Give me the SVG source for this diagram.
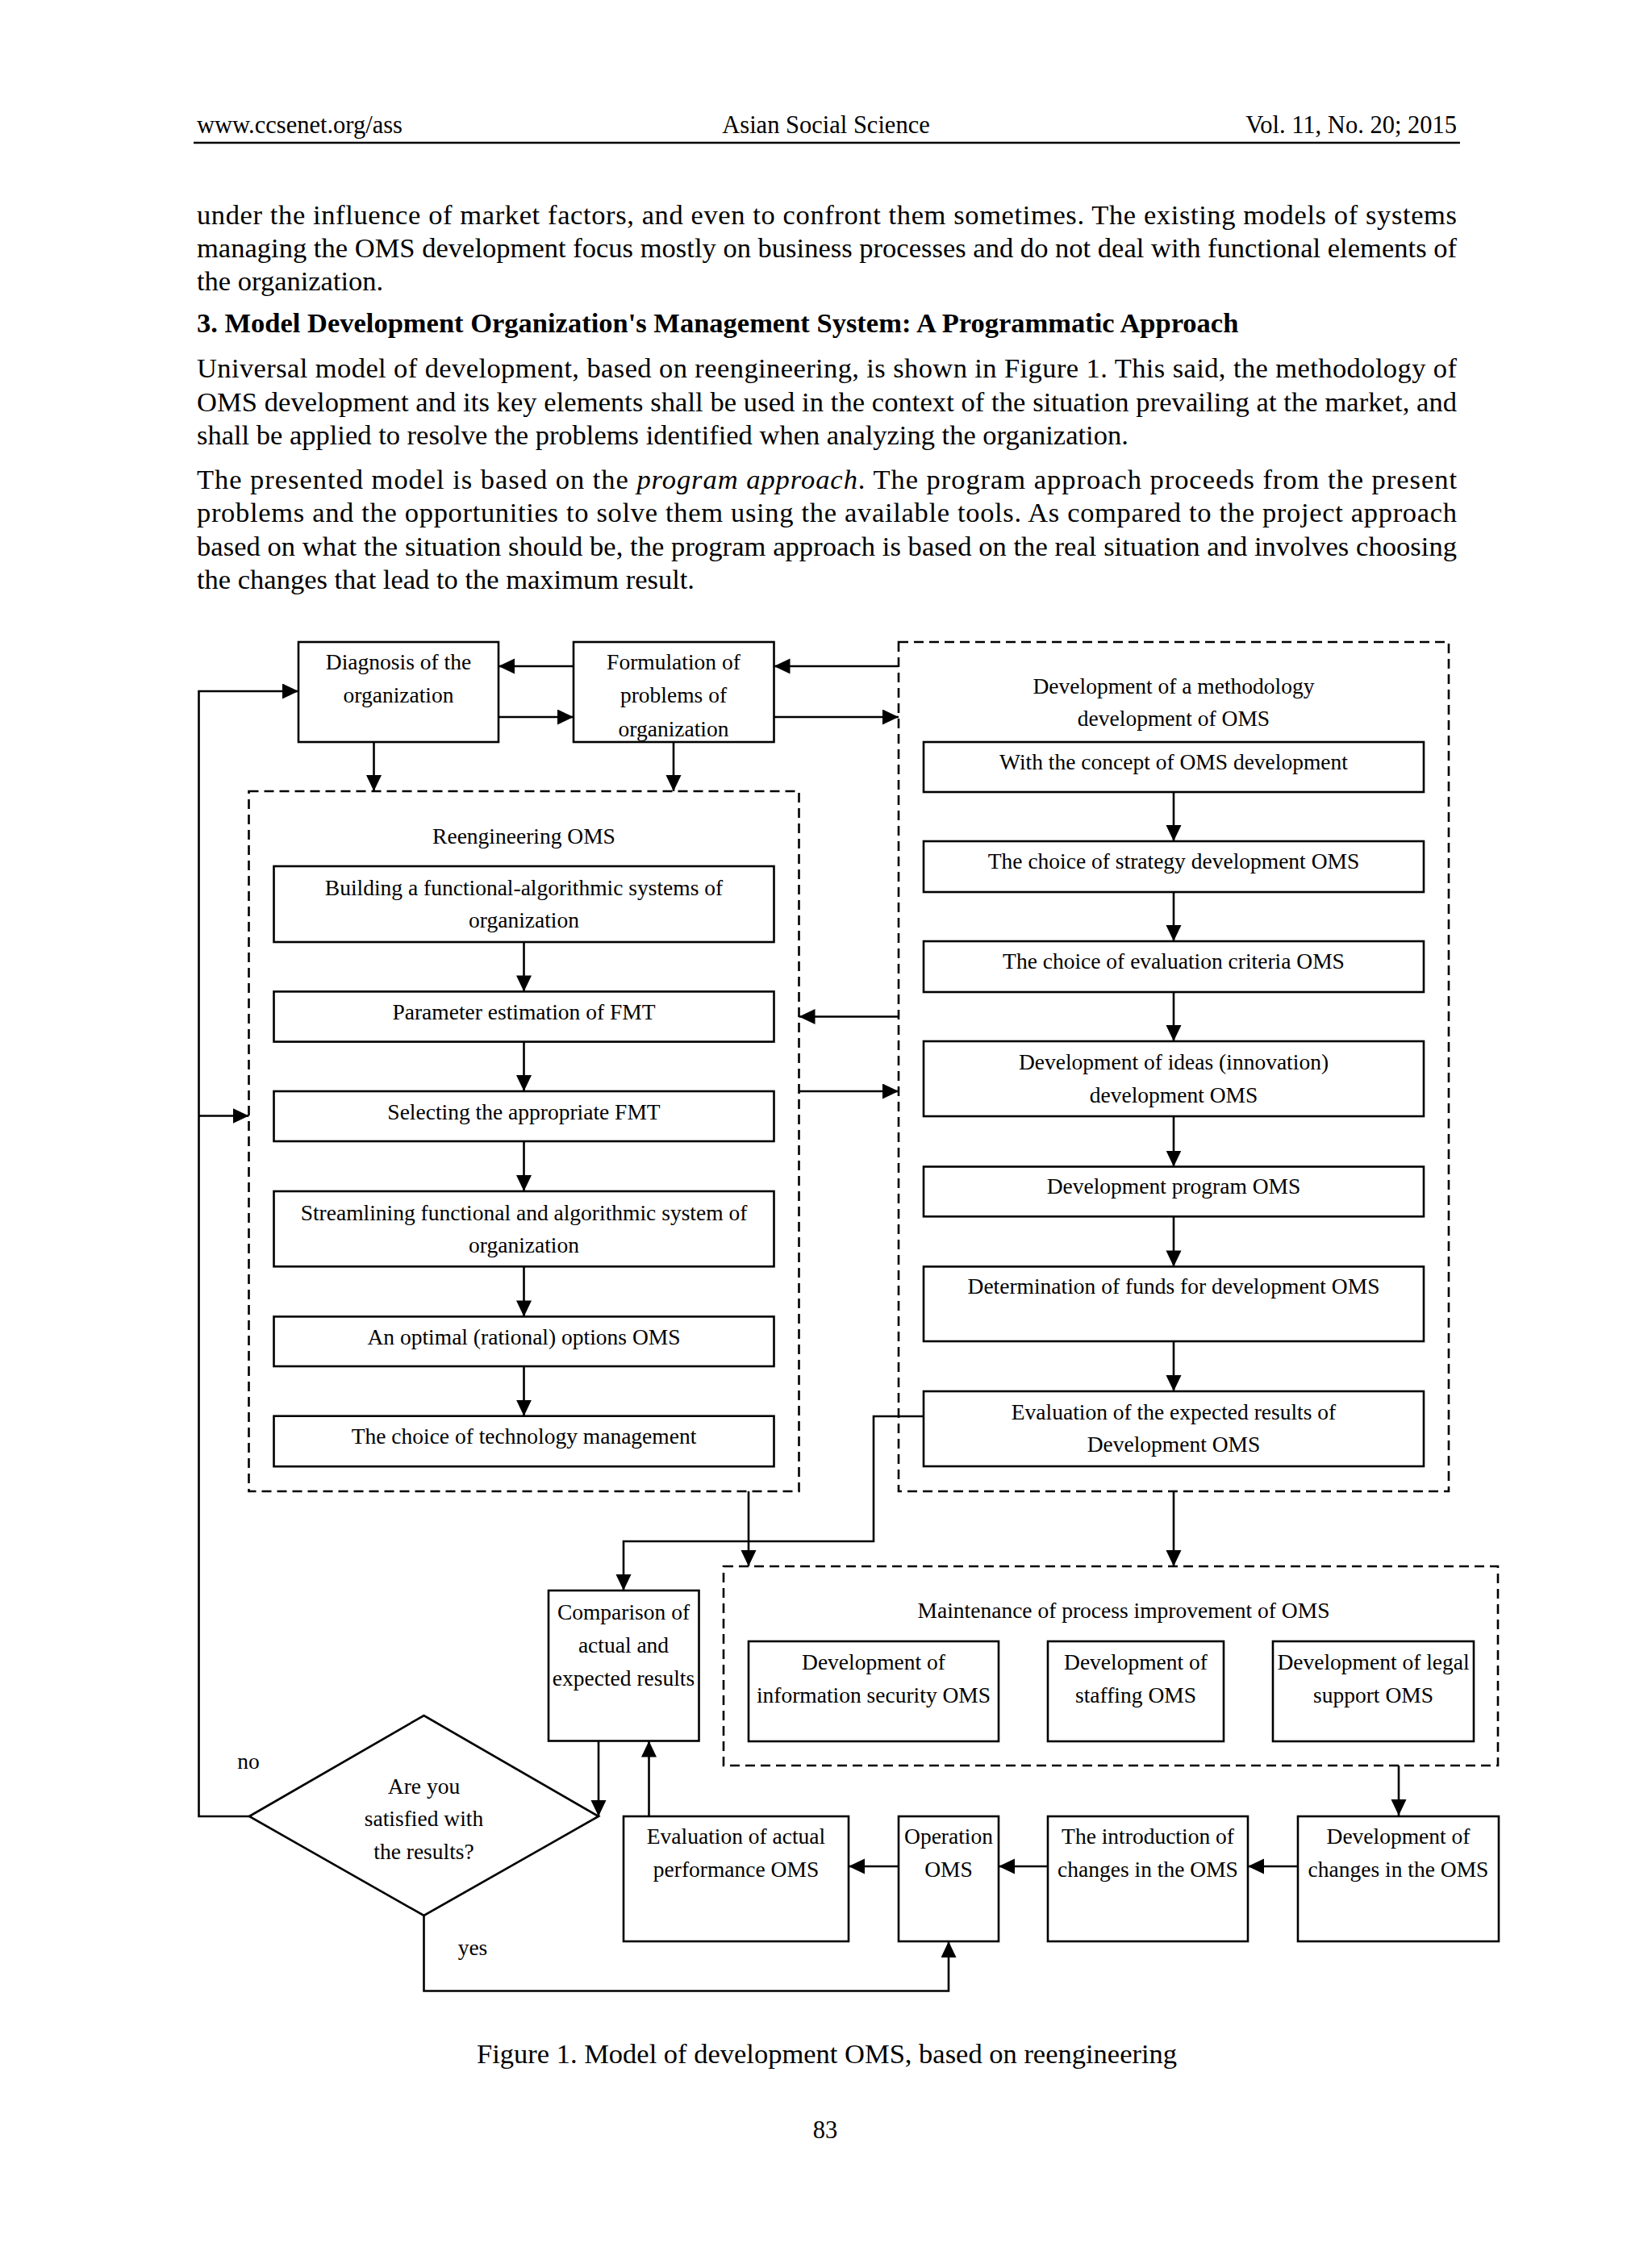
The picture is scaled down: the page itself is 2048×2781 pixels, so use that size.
<svg xmlns="http://www.w3.org/2000/svg" width="2048" height="2781" viewBox="0 0 2048 2781">
<style>
.b{fill:#fff;stroke:#000;stroke-width:2.6}
.d{fill:none;stroke:#000;stroke-width:2.6;stroke-dasharray:12 7}
.c{fill:none;stroke:#000;stroke-width:2.6}
.t{font-family:"Liberation Serif",serif;font-size:27.5px;text-anchor:middle;fill:#000}
.p{font-family:"Liberation Serif",serif;font-size:34.5px;fill:#000}
.h{font-family:"Liberation Serif",serif;font-size:30.5px;fill:#000}
</style>
<defs>
<marker id="ah" markerUnits="userSpaceOnUse" markerWidth="21" markerHeight="20" refX="20" refY="9.5" orient="auto">
<path d="M0,0 L20,9.5 L0,19 z" fill="#000"/>
</marker>
</defs>
<rect width="2048" height="2781" fill="#fff"/>

<!-- page header & body text -->
<g id="page-text">
<text class="h" x="244" y="165">www.ccsenet.org/ass</text>
<text class="h" x="1024" y="165" text-anchor="middle">Asian Social Science</text>
<text class="h" x="1806" y="165" text-anchor="end">Vol. 11, No. 20; 2015</text>
<line x1="240" y1="177" x2="1810" y2="177" stroke="#000" stroke-width="2.5"/>
<text class="p" x="244" y="278" textLength="1562" lengthAdjust="spacing">under the influence of market factors, and even to confront them sometimes. The existing models of systems</text>
<text class="p" x="244" y="319" textLength="1562" lengthAdjust="spacing">managing the OMS development focus mostly on business processes and do not deal with functional elements of</text>
<text class="p" x="244" y="360">the organization.</text>
<text class="p" x="244" y="412" font-weight="bold">3. Model Development Organization's Management System: A Programmatic Approach</text>
<text class="p" x="244" y="468" textLength="1562" lengthAdjust="spacing">Universal model of development, based on reengineering, is shown in Figure 1. This said, the methodology of</text>
<text class="p" x="244" y="510" textLength="1562" lengthAdjust="spacing">OMS development and its key elements shall be used in the context of the situation prevailing at the market, and</text>
<text class="p" x="244" y="551">shall be applied to resolve the problems identified when analyzing the organization.</text>
<text class="p" x="244" y="606" textLength="1562" lengthAdjust="spacing">The presented model is based on the <tspan font-style="italic">program approach</tspan>. The program approach proceeds from the present</text>
<text class="p" x="244" y="647" textLength="1562" lengthAdjust="spacing">problems and the opportunities to solve them using the available tools. As compared to the project approach</text>
<text class="p" x="244" y="689" textLength="1562" lengthAdjust="spacing">based on what the situation should be, the program approach is based on the real situation and involves choosing</text>
<text class="p" x="244" y="730">the changes that lead to the maximum result.</text>
<text class="p" x="1025" y="2558" text-anchor="middle">Figure 1. Model of development OMS, based on reengineering</text>
<text class="h" x="1023" y="2651" text-anchor="middle">83</text>
</g>

<!-- containers -->
<g id="reengineering">
<rect class="d" x="308.5" y="981" width="682" height="868"/>
<text class="t" x="649.5" y="1046">Reengineering OMS</text>
</g>
<g id="methodology">
<rect class="d" x="1114" y="796" width="682" height="1053"/>
<text class="t" x="1455" y="860">Development of a methodology</text>
<text class="t" x="1455" y="900">development of OMS</text>
</g>
<g id="maintenance">
<rect class="d" x="897" y="1942" width="960" height="247"/>
<text class="t" x="1393" y="2006">Maintenance of process improvement of OMS</text>
</g>

<!-- connectors -->
<g id="connectors">
<path class="c" d="M711,826 H618" marker-end="url(#ah)"/>
<path class="c" d="M618,889 H711" marker-end="url(#ah)"/>
<path class="c" d="M1114,826 H959.5" marker-end="url(#ah)"/>
<path class="c" d="M959.5,889 H1114" marker-end="url(#ah)"/>
<path class="c" d="M463.5,920 V981" marker-end="url(#ah)"/>
<path class="c" d="M835,920 V981" marker-end="url(#ah)"/>
<path class="c" d="M649.5,1168 V1229.4" marker-end="url(#ah)"/>
<path class="c" d="M649.5,1291.6 V1353" marker-end="url(#ah)"/>
<path class="c" d="M649.5,1415 V1477" marker-end="url(#ah)"/>
<path class="c" d="M649.5,1570.3 V1632.4" marker-end="url(#ah)"/>
<path class="c" d="M649.5,1694 V1755.7" marker-end="url(#ah)"/>
<path class="c" d="M1455,982 V1043" marker-end="url(#ah)"/>
<path class="c" d="M1455,1106 V1167" marker-end="url(#ah)"/>
<path class="c" d="M1455,1230 V1291" marker-end="url(#ah)"/>
<path class="c" d="M1455,1384 V1446.5" marker-end="url(#ah)"/>
<path class="c" d="M1455,1508.3 V1570.4" marker-end="url(#ah)"/>
<path class="c" d="M1455,1663 V1725" marker-end="url(#ah)"/>
<path class="c" d="M1114,1260.5 H990.5" marker-end="url(#ah)"/>
<path class="c" d="M990.5,1353 H1114" marker-end="url(#ah)"/>
<path class="c" d="M309,2252 H246.5 V857 H370" marker-end="url(#ah)"/>
<path class="c" d="M246.5,1383.5 H308.5" marker-end="url(#ah)"/>
<path class="c" d="M928,1849 V1942" marker-end="url(#ah)"/>
<path class="c" d="M1145,1756 H1083 V1911 H773 V1972" marker-end="url(#ah)"/>
<path class="c" d="M1455,1849 V1942" marker-end="url(#ah)"/>
<path class="c" d="M1734,2189 V2251" marker-end="url(#ah)"/>
<path class="c" d="M1609,2314 H1547" marker-end="url(#ah)"/>
<path class="c" d="M1299,2314 H1238" marker-end="url(#ah)"/>
<path class="c" d="M1114,2314 H1052" marker-end="url(#ah)"/>
<path class="c" d="M804.5,2252 V2158.5" marker-end="url(#ah)"/>
<path class="c" d="M742,2158.5 V2252" marker-end="url(#ah)"/>
<path class="c" d="M525.5,2375 V2468.5 H1176 V2407" marker-end="url(#ah)"/>
<text class="t" x="308" y="2193">no</text>
<text class="t" x="586" y="2424">yes</text>
</g>

<!-- nodes -->
<g id="diagnosis"><rect class="b" x="370" y="796" width="248" height="124"/>
<text class="t" x="494" y="830">Diagnosis of the</text><text class="t" x="494" y="871">organization</text></g>
<g id="formulation"><rect class="b" x="711" y="796" width="248.5" height="124"/>
<text class="t" x="835" y="830">Formulation of</text><text class="t" x="835" y="871">problems of</text><text class="t" x="835" y="913">organization</text></g>

<g id="building"><rect class="b" x="339.5" y="1074" width="620" height="94"/>
<text class="t" x="649.5" y="1110">Building a functional-algorithmic systems of</text><text class="t" x="649.5" y="1150">organization</text></g>
<g id="parameter"><rect class="b" x="339.5" y="1229.4" width="620" height="62.2"/>
<text class="t" x="649.5" y="1264">Parameter estimation of FMT</text></g>
<g id="selecting"><rect class="b" x="339.5" y="1353" width="620" height="62"/>
<text class="t" x="649.5" y="1387.5">Selecting the appropriate FMT</text></g>
<g id="streamlining"><rect class="b" x="339.5" y="1477" width="620" height="93.3"/>
<text class="t" x="649.5" y="1512.5">Streamlining functional and algorithmic system of</text><text class="t" x="649.5" y="1553">organization</text></g>
<g id="optimal"><rect class="b" x="339.5" y="1632.4" width="620" height="61.6"/>
<text class="t" x="649.5" y="1667">An optimal (rational) options OMS</text></g>
<g id="technology"><rect class="b" x="339.5" y="1755.7" width="620" height="62.5"/>
<text class="t" x="649.5" y="1790">The choice of technology management</text></g>

<g id="concept"><rect class="b" x="1145" y="920" width="620" height="62"/>
<text class="t" x="1455" y="954">With the concept of OMS development</text></g>
<g id="strategy"><rect class="b" x="1145" y="1043" width="620" height="63"/>
<text class="t" x="1455" y="1077">The choice of strategy development OMS</text></g>
<g id="criteria"><rect class="b" x="1145" y="1167" width="620" height="63"/>
<text class="t" x="1455" y="1201">The choice of evaluation criteria OMS</text></g>
<g id="ideas"><rect class="b" x="1145" y="1291" width="620" height="93"/>
<text class="t" x="1455" y="1326">Development of ideas (innovation)</text><text class="t" x="1455" y="1367">development OMS</text></g>
<g id="program"><rect class="b" x="1145" y="1446.5" width="620" height="61.8"/>
<text class="t" x="1455" y="1480">Development program OMS</text></g>
<g id="funds"><rect class="b" x="1145" y="1570.4" width="620" height="92.6"/>
<text class="t" x="1455" y="1604">Determination of funds for development OMS</text></g>
<g id="expected"><rect class="b" x="1145" y="1725" width="620" height="93"/>
<text class="t" x="1455" y="1760">Evaluation of the expected results of</text><text class="t" x="1455" y="1800">Development OMS</text></g>

<g id="security"><rect class="b" x="928" y="2035" width="310" height="124"/>
<text class="t" x="1083" y="2070">Development of</text><text class="t" x="1083" y="2111">information security OMS</text></g>
<g id="staffing"><rect class="b" x="1299" y="2035" width="218" height="124"/>
<text class="t" x="1408" y="2070">Development of</text><text class="t" x="1408" y="2111">staffing OMS</text></g>
<g id="legal"><rect class="b" x="1578" y="2035" width="249" height="124"/>
<text class="t" x="1702.5" y="2070">Development of legal</text><text class="t" x="1702.5" y="2111">support OMS</text></g>

<g id="comparison"><rect class="b" x="680" y="1972" width="186.5" height="186.5"/>
<text class="t" x="773" y="2008">Comparison of</text><text class="t" x="773" y="2049">actual and</text><text class="t" x="773" y="2090">expected results</text></g>
<g id="decision"><polygon class="b" points="309,2252 525.5,2127 742,2252 525.5,2375"/>
<text class="t" x="525.5" y="2224">Are you</text><text class="t" x="525.5" y="2264">satisfied with</text><text class="t" x="525.5" y="2305">the results?</text></g>
<g id="actual"><rect class="b" x="773" y="2252" width="279" height="155"/>
<text class="t" x="912.5" y="2286">Evaluation of actual</text><text class="t" x="912.5" y="2327">performance OMS</text></g>
<g id="operation"><rect class="b" x="1114" y="2252" width="124" height="155"/>
<text class="t" x="1176" y="2286">Operation</text><text class="t" x="1176" y="2327">OMS</text></g>
<g id="introduction"><rect class="b" x="1299" y="2252" width="248" height="155"/>
<text class="t" x="1423" y="2286">The introduction of</text><text class="t" x="1423" y="2327">changes in the OMS</text></g>
<g id="changes"><rect class="b" x="1609" y="2252" width="249" height="155"/>
<text class="t" x="1733.5" y="2286">Development of</text><text class="t" x="1733.5" y="2327">changes in the OMS</text></g>
</svg>
